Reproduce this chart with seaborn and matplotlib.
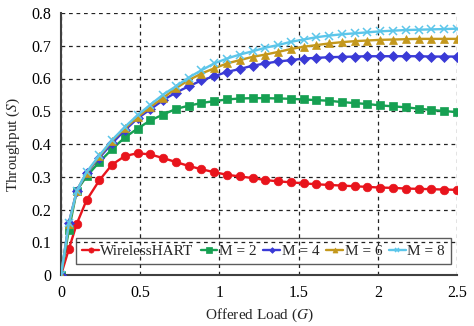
import numpy as np
import pandas as pd
import matplotlib
matplotlib.use("Agg")
import matplotlib.pyplot as plt
import seaborn as sns

# Data
load = [0.0, 0.05, 0.1] + [round(0.161 + 0.0806 * k, 3) for k in range(30)]
wirelesshart = [0, 0.08, 0.157, 0.228, 0.289, 0.337, 0.363, 0.372, 0.368, 0.357, 0.345,
                0.333, 0.323, 0.314, 0.306, 0.301, 0.296, 0.290, 0.286, 0.283, 0.280,
                0.277, 0.275, 0.273, 0.271, 0.269, 0.267, 0.266, 0.264, 0.263, 0.262,
                0.261, 0.260]
m2 = [0, 0.138, 0.258, 0.301, 0.345, 0.384, 0.42, 0.447, 0.472, 0.49, 0.507, 0.517,
      0.525, 0.531, 0.536, 0.539, 0.540, 0.540, 0.539, 0.538, 0.536, 0.534, 0.532,
      0.528, 0.525, 0.522, 0.518, 0.515, 0.512, 0.508, 0.504, 0.501, 0.497]
m4 = [0, 0.16, 0.258, 0.311, 0.358, 0.402, 0.442, 0.478, 0.506, 0.534, 0.557, 0.576,
      0.594, 0.607, 0.62, 0.629, 0.639, 0.646, 0.652, 0.656, 0.661, 0.663, 0.665,
      0.666, 0.667, 0.668, 0.668, 0.668, 0.668, 0.668, 0.667, 0.667, 0.667]
m6 = [0, 0.155, 0.258, 0.312, 0.362, 0.41, 0.448, 0.482, 0.513, 0.541, 0.570, 0.595,
      0.615, 0.631, 0.646, 0.656, 0.666, 0.673, 0.681, 0.690, 0.697, 0.702, 0.707,
      0.711, 0.714, 0.716, 0.718, 0.719, 0.720, 0.721, 0.721, 0.721, 0.721]
m8 = [0, 0.158, 0.258, 0.314, 0.365, 0.412, 0.452, 0.488, 0.520, 0.551, 0.576, 0.603,
      0.625, 0.646, 0.661, 0.673, 0.683, 0.694, 0.702, 0.712, 0.719, 0.726, 0.731,
      0.735, 0.738, 0.741, 0.744, 0.746, 0.748, 0.749, 0.750, 0.751, 0.752]

series_names = ["WirelessHART", "M = 2", "M = 4", "M = 6", "M = 8"]
series_values = [wirelesshart, m2, m4, m6, m8]
x_ticks = [0, 0.5, 1, 1.5, 2, 2.5]
x_tick_labels = ["0", "0.5", "1", "1.5", "2", "2.5"]
y_ticks = [0, 0.1, 0.2, 0.3, 0.4, 0.5, 0.6, 0.7, 0.8]
y_tick_labels = ["0", "0.1", "0.2", "0.3", "0.4", "0.5", "0.6", "0.7", "0.8"]

colors = ["#E8141C", "#16A052", "#3A3AD6", "#C4981C", "#5CC6EA"]
markers = ["o", "s", "D", "^", "x"]
msizes = [6.2, 6.2, 4.8, 6.0, 6.0]

sns.set_theme(style="white")
plt.rcParams["font.family"] = ["Liberation Serif", "DejaVu Serif"]
plt.rcParams["mathtext.fontset"] = "stix"

fig = plt.figure(figsize=(4.74, 3.26), dpi=100)
ax = fig.add_axes([61 / 474, 1 - 275 / 326, 396 / 474, 262 / 326])

for name, vals, c, m, ms in zip(series_names, series_values, colors, markers, msizes):
    df = pd.DataFrame({"G": load, "S": vals})
    sns.lineplot(data=df, x="G", y="S", ax=ax, color=c, marker=m, markersize=ms,
                 markeredgecolor=c, markeredgewidth=1.1 if m == "x" else 0.5,
                 linewidth=1.7, label=name, zorder=3)

ax.set_xlim(0, 2.5)
ax.set_ylim(0, 0.8)
ax.set_xticks(x_ticks)
ax.set_xticklabels(x_tick_labels)
ax.set_yticks(y_ticks)
ax.set_yticklabels(y_tick_labels)
ax.tick_params(axis="both", length=0, labelsize=11.5, colors="black", pad=7)

ax.grid(True, color="#222222", linestyle=(0, (3, 3)), linewidth=0.9)
for s in ["top", "right"]:
    ax.spines[s].set_visible(False)
for s in ["left", "bottom"]:
    ax.spines[s].set_color("#404040")
    ax.spines[s].set_linewidth(1.5)

ax.set_xlabel("Offered Load ($\\mathit{G}$)", fontsize=11, labelpad=4)
ax.set_ylabel("Throughput ($\\mathit{S}$)", fontsize=11, labelpad=7)

leg = ax.legend(loc="lower left", bbox_to_anchor=(15 / 396, 11 / 262),
                ncol=5, fontsize=11, frameon=True, fancybox=False,
                edgecolor="#333333", handlelength=1.1, handletextpad=0.1,
                columnspacing=0.45, borderaxespad=0, borderpad=0.4, markerscale=0.6)
leg.get_frame().set_facecolor("none")
leg.get_frame().set_linewidth(1.0)

fig.savefig("out.png", dpi=100)
